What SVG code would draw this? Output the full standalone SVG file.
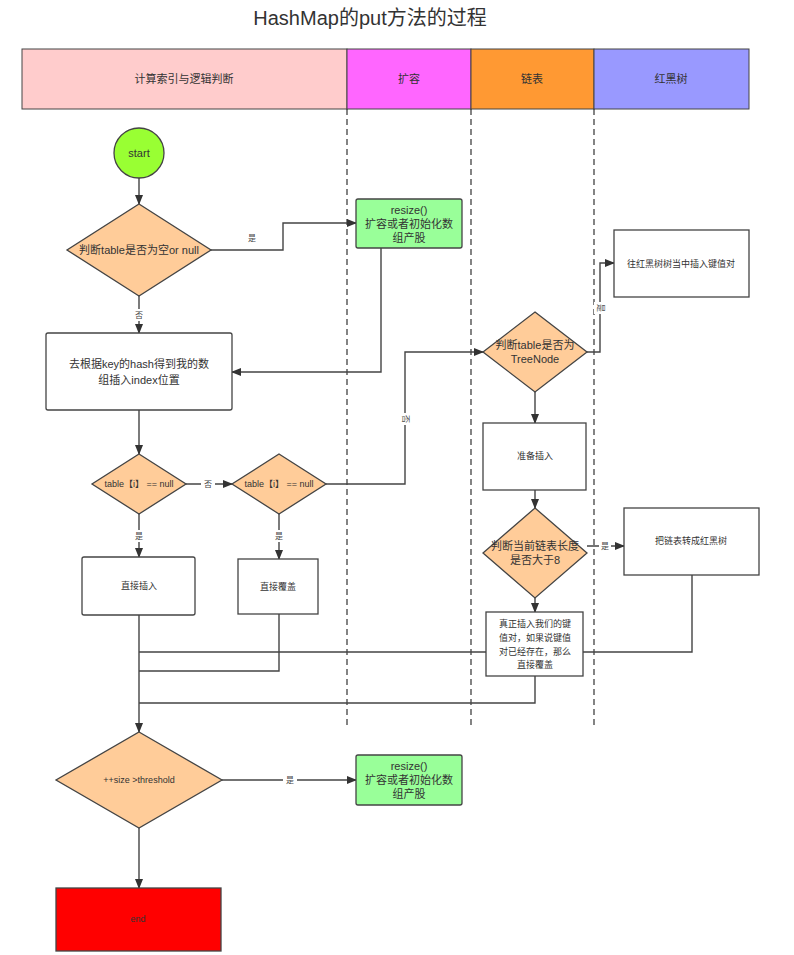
<svg xmlns="http://www.w3.org/2000/svg" width="794" height="955" viewBox="0 0 794 955">
<style>
text{font-family:"Liberation Sans","Noto Sans CJK SC",sans-serif;fill:#333;text-anchor:middle;dominant-baseline:central}
.t{font-size:11px}.s{font-size:9px}.l{font-size:8px;fill:#444}
.box{fill:#fff;stroke:#444;stroke-width:1.3}
.dia{fill:#ffcc99;stroke:#444;stroke-width:1.3}
.grn{fill:#99ff99;stroke:#444;stroke-width:1.3}
.e{fill:none;stroke:#444;stroke-width:1.4}
.dash{stroke:#333;stroke-width:1.2;stroke-dasharray:6,4}
</style>
<defs><marker id="a" markerWidth="10" markerHeight="10" refX="9" refY="5" orient="auto" markerUnits="userSpaceOnUse"><path d="M0,1 L10,5 L0,9z" fill="#333"/></marker></defs>
<rect width="794" height="955" fill="#fff"/>
<text x="370" y="18" style="font-size:20px">HashMap的put方法的过程</text>
<g id="lanes">
<rect x="22" y="49" width="325" height="60" fill="#ffcccc" stroke="#444"/>
<rect x="347" y="49" width="124" height="60" fill="#ff66ff" stroke="#444"/>
<rect x="471" y="49" width="123" height="60" fill="#ff9933" stroke="#444"/>
<rect x="594" y="49" width="155" height="60" fill="#9999ff" stroke="#444"/>
<text x="184" y="79" class="t">计算索引与逻辑判断</text>
<text x="409" y="79" class="t">扩容</text>
<text x="532" y="79" class="t">链表</text>
<text x="671" y="79" class="t">红黑树</text>
<line x1="347" y1="109" x2="347" y2="728" class="dash"/>
<line x1="471" y1="109" x2="471" y2="728" class="dash"/>
<line x1="594" y1="109" x2="594" y2="728" class="dash"/>
</g>
<g id="connectors">
<path class="e" d="M139,178 V204" marker-end="url(#a)"/>
<path class="e" d="M211,250 H283 V223 H356" marker-end="url(#a)"/>
<path class="e" d="M139,296 V333" marker-end="url(#a)"/>
<path class="e" d="M381,248 V372 H232" marker-end="url(#a)"/>
<path class="e" d="M139,410 V454" marker-end="url(#a)"/>
<path class="e" d="M186,484 H232" marker-end="url(#a)"/>
<path class="e" d="M326,484 H405 V352 H483" marker-end="url(#a)"/>
<path class="e" d="M587,352 H600 V263 H614" marker-end="url(#a)"/>
<path class="e" d="M535,392 V423" marker-end="url(#a)"/>
<path class="e" d="M535,490 V508" marker-end="url(#a)"/>
<path class="e" d="M587,546 H624" marker-end="url(#a)"/>
<path class="e" d="M535,598 V612" marker-end="url(#a)"/>
<path class="e" d="M139,514 V557" marker-end="url(#a)"/>
<path class="e" d="M279,514 V559" marker-end="url(#a)"/>
<path class="e" d="M139,615 V732" marker-end="url(#a)"/>
<path class="e" d="M692,575 V652 H139"/>
<path class="e" d="M279,614 V671 H139"/>
<path class="e" d="M535,676 V703 H139"/>
<path class="e" d="M222,780 H356" marker-end="url(#a)"/>
<path class="e" d="M139,828 V888" marker-end="url(#a)"/>
<g fill="#fff">
<rect x="245" y="232" width="14" height="12"/><rect x="132" y="309" width="14" height="12"/>
<rect x="201" y="478" width="14" height="12"/><rect x="398" y="413" width="14" height="12"/>
<rect x="594" y="302" width="12" height="12"/><rect x="599" y="540" width="12" height="12"/>
<rect x="132" y="530" width="14" height="12"/><rect x="272" y="530" width="14" height="12"/>
<rect x="283" y="774" width="14" height="12"/></g>
<text x="252" y="238" class="l">是</text><text x="139" y="315" class="l">否</text>
<text x="208" y="484" class="l">否</text><text x="405" y="419" class="l" transform="rotate(90 405 419)">否</text>
<text x="600" y="308" class="l" transform="rotate(90 600 308)">是</text><text x="605" y="546" class="l">是</text>
<text x="139" y="536" class="l">是</text><text x="279" y="536" class="l">是</text>
<text x="290" y="780" class="l">是</text>
</g>
<g id="start"><circle cx="139" cy="153" r="25" fill="#99ff33" stroke="#444" stroke-width="1.3"/><text x="139" y="153" class="t">start</text></g>
<g id="d1"><polygon class="dia" points="139,204 211,250 139,296 67,250"/><text x="139" y="250" class="t">判断table是否为空or null</text></g>
<g id="resize1"><rect class="grn" x="356" y="199" width="106" height="49" rx="2"/><text x="409" y="210" class="t">resize()</text><text x="409" y="224" class="t">扩容或者初始化数</text><text x="409" y="238" class="t">组产股</text></g>
<g id="index"><rect class="box" x="46" y="333" width="186" height="77" rx="2"/><text x="139" y="364" class="t">去根据key的hash得到我的数</text><text x="139" y="380" class="t">组插入index位置</text></g>
<g id="d3"><polygon class="dia" points="139,454 186,484 139,514 92,484"/><text x="139" y="484" class="s">table【i】 == null</text></g>
<g id="d4"><polygon class="dia" points="279,454 326,484 279,514 232,484"/><text x="279" y="484" class="s">table【i】 == null</text></g>
<g id="insert"><rect class="box" x="82" y="557" width="113" height="58" rx="2"/><text x="139" y="586" class="s">直接插入</text></g>
<g id="cover"><rect class="box" x="238" y="559" width="80" height="55"/><text x="278" y="587" class="s">直接覆盖</text></g>
<g id="d5"><polygon class="dia" points="535,312 587,352 535,392 483,352"/><text x="535" y="345" class="t">判断table是否为</text><text x="535" y="359" class="t">TreeNode</text></g>
<g id="tree"><rect class="box" x="614" y="230" width="135" height="67"/><text x="681" y="264" class="s">往红黑树树当中插入键值对</text></g>
<g id="prep"><rect class="box" x="483" y="423" width="103" height="67"/><text x="535" y="456" class="s">准备插入</text></g>
<g id="d6"><polygon class="dia" points="535,508 587,553 535,598 483,553"/><text x="535" y="546" class="t">判断当前链表长度</text><text x="535" y="560" class="t">是否大于8</text></g>
<g id="convert"><rect class="box" x="624" y="508" width="135" height="67"/><text x="691" y="541" class="s">把链表转成红黑树</text></g>
<g id="real"><rect class="box" x="486" y="612" width="97" height="64"/><text x="535" y="624" class="s">真正插入我们的键</text><text x="535" y="638" class="s">值对，如果说键值</text><text x="535" y="652" class="s">对已经存在，那么</text><text x="535" y="665" class="s">直接覆盖</text></g>
<g id="d7"><polygon class="dia" points="139,732 222,780 139,828 56,780"/><text x="139" y="780" class="s">++size &gt;threshold</text></g>
<g id="resize2"><rect class="grn" x="356" y="755" width="106" height="50" rx="2"/><text x="409" y="766" class="t">resize()</text><text x="409" y="780" class="t">扩容或者初始化数</text><text x="409" y="794" class="t">组产股</text></g>
<g id="end"><rect x="56" y="888" width="165" height="63" fill="#ff0000" stroke="#444" stroke-width="1.3"/><text x="138" y="919" class="s">end</text></g>
</svg>
